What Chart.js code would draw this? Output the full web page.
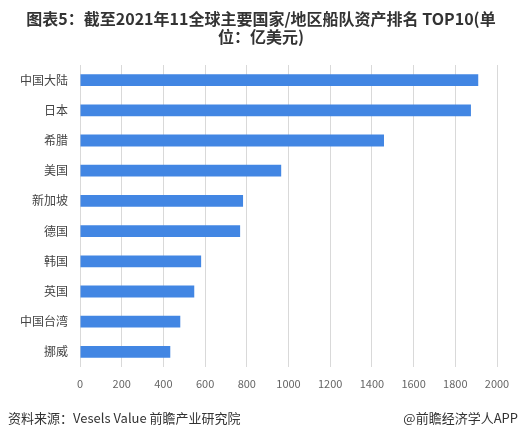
<!DOCTYPE html>
<html>
<head>
<meta charset="utf-8">
<script src="https://cdn.jsdelivr.net/npm/chart.js@4"></script>
<style>
html,body{margin:0;padding:0;background:#fff;}
#wrap{width:522px;height:440px;position:relative;}
</style>
</head>
<body>
<div id="wrap"><canvas id="c" width="522" height="440"></canvas></div>
<script>
const categories = ["中国大陆","日本","希腊","美国","新加坡","德国","韩国","英国","中国台湾","挪威"];
const values = [1910, 1875, 1458, 965, 782, 768, 581, 548, 481, 433];
const xTicks = [0,200,400,600,800,1000,1200,1400,1600,1800,2000];
const titleLines = ["图表5：截至2021年11全球主要国家/地区船队资产排名 TOP10(单", "位：亿美元)"];
const sourceText = "资料来源：Vesels Value 前瞻产业研究院";
const brandText = "@前瞻经济学人APP";

const CJK = '"Noto Sans CJK SC", "Noto Sans", sans-serif';

const textPlugin = {
  id: 'texts',
  afterDraw(chart) {
    const ctx = chart.ctx;
    ctx.save();
    ctx.font = 'bold 16px ' + CJK;
    ctx.fillStyle = '#333333';
    ctx.textBaseline = 'middle';
    ctx.textAlign = 'center';
    ctx.fillText(titleLines[0], 261, 19);
    ctx.fillText(titleLines[1], 261, 37);
    ctx.font = '13px ' + CJK;
    ctx.textAlign = 'left';
    ctx.fillText(sourceText, 8, 418);
    ctx.textAlign = 'right';
    ctx.fillText(brandText, 518, 418);
    ctx.restore();
  }
};

new Chart(document.getElementById('c'), {
  type: 'bar',
  data: {
    labels: categories,
    datasets: [{
      data: values,
      backgroundColor: '#4286E3',
      barPercentage: 0.39,
      categoryPercentage: 1.0
    }]
  },
  options: {
    indexAxis: 'y',
    responsive: false,
    animation: false,
    devicePixelRatio: 1,
    layout: { padding: { left: 0, right: 25, top: 65, bottom: 40 } },
    plugins: {
      legend: { display: false },
      tooltip: { enabled: false },
      title: { display: false }
    },
    scales: {
      x: {
        min: 0,
        max: 2000,
        afterBuildTicks(scale) { scale.ticks = xTicks.map(v => ({ value: v })); },
        afterFit(scale) { scale.height = 33; },
        grid: { color: '#d9d9d9', lineWidth: 1, drawTicks: false },
        border: { display: false },
        ticks: {
          color: '#666666', padding: 10, font: { family: CJK, size: 11 },
          callback: (v) => String(v)
        }
      },
      y: {
        afterFit(scale) { scale.width = 80; },
        grid: { display: false, drawTicks: false },
        border: { display: false },
        ticks: { color: '#444444', padding: 12, font: { family: CJK, size: 12 } }
      }
    }
  },
  plugins: [textPlugin]
});
</script>
</body>
</html>
